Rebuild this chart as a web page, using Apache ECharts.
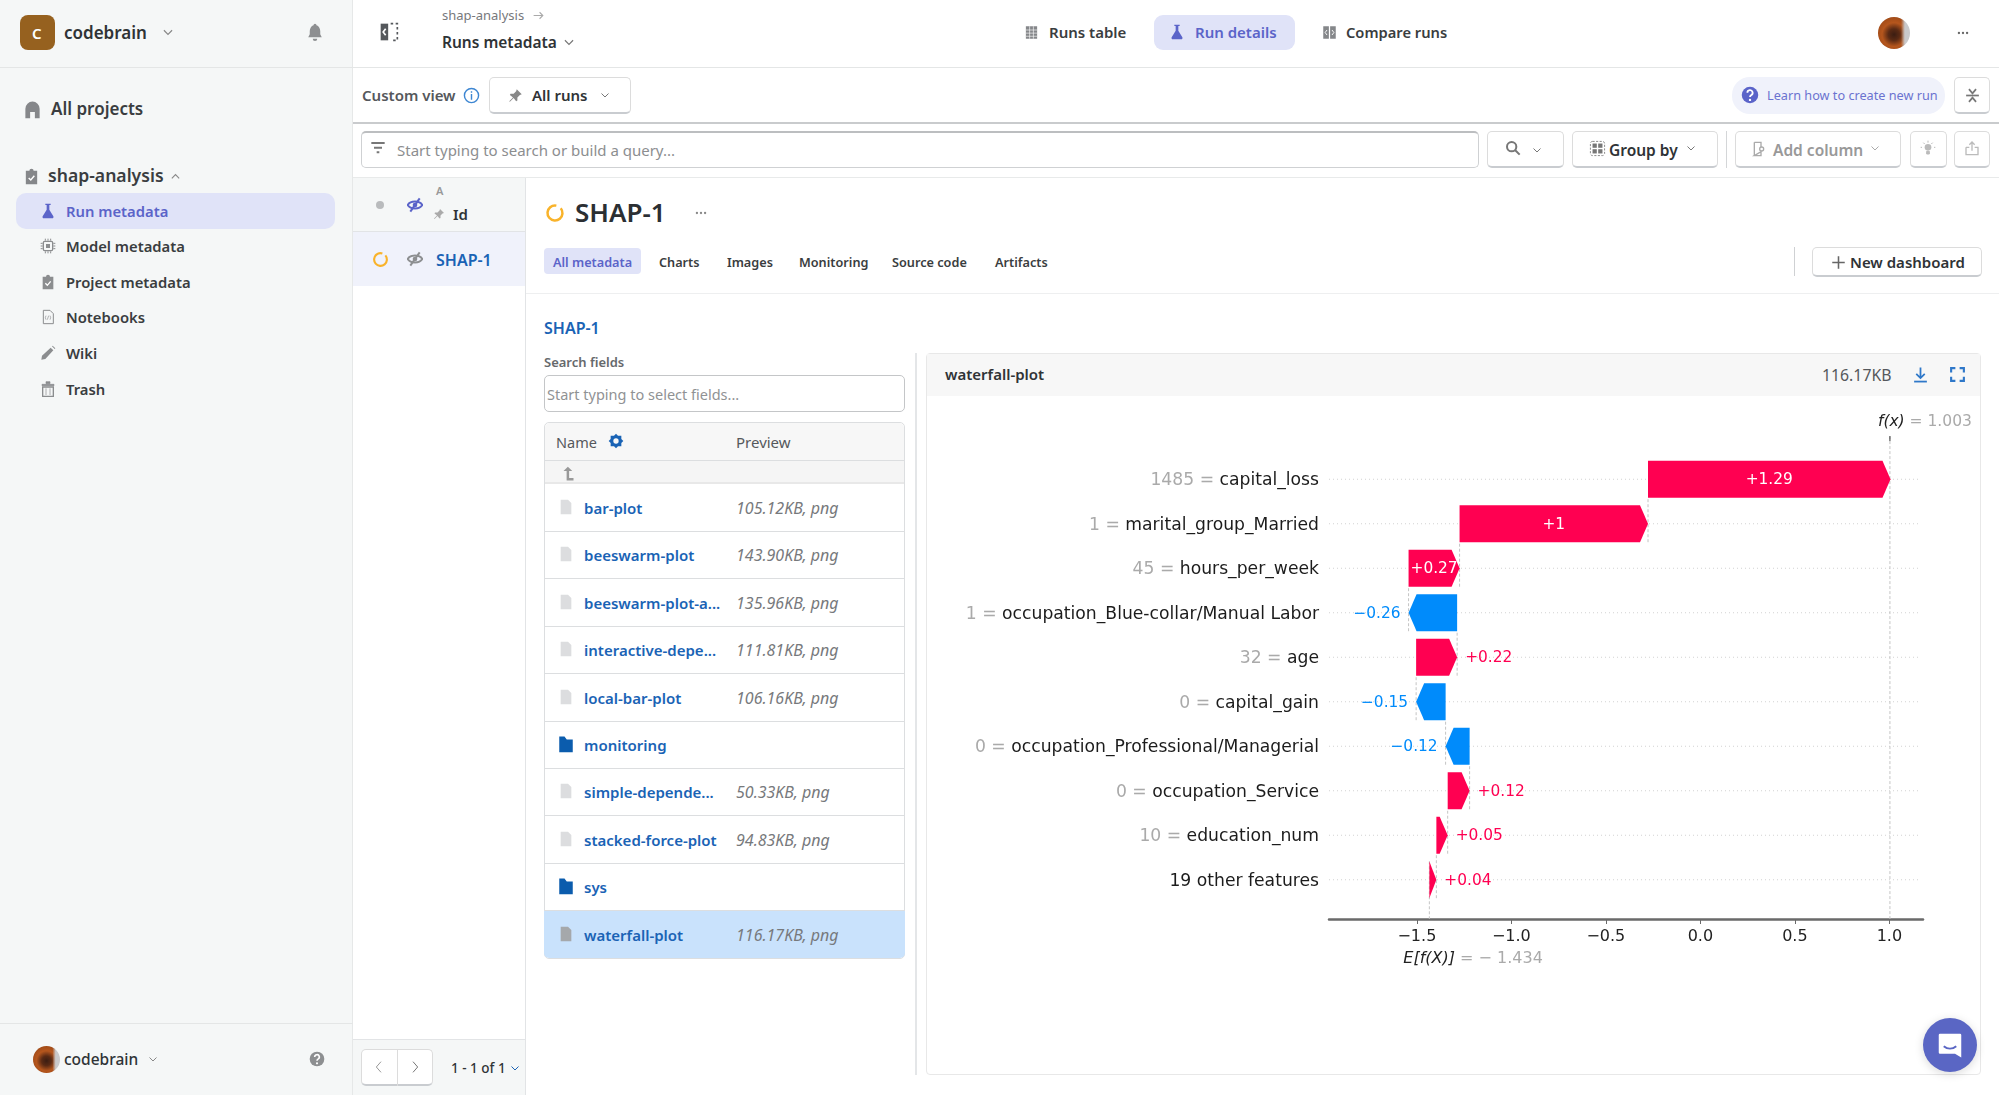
<!DOCTYPE html>
<html>
<head>
<meta charset="utf-8">
<title>waterfall-plot</title>
<script src="https://cdn.jsdelivr.net/npm/echarts@6/dist/echarts.min.js"></script>
<style>
  html, body { margin: 0; padding: 0; background: #fff; }
  #page { position: relative; width: 1999px; height: 1095px; overflow: hidden; font-family: "Noto Sans", sans-serif; color: #2b2f33; }
  #page div, #page span, #page svg { position: absolute; box-sizing: border-box; }
  #page span { white-space: nowrap; transform: translateY(-50%); }
  #chart { left: 926px; top: 396px; width: 1055px; height: 679px; }
</style>
</head>
<body>
<div id="page"><div id="chart"></div></div>
<script>
// waterfall values, top row first
var featureNames = ['capital_loss', 'marital_group_Married', 'hours_per_week', 'occupation_Blue-collar/Manual Labor', 'age', 'capital_gain', 'occupation_Professional/Managerial', 'occupation_Service', 'education_num', '19 other features'];
var featureValues = ['1485', '1', '45', '1', '32', '0', '0', '0', '10', ''];
var shapValues = [1.283, 0.997, 0.27, -0.257, 0.217, -0.156, -0.127, 0.116, 0.06, 0.037];
var shapLabels = ['+1.29', '+1', '+0.27', '\u22120.26', '+0.22', '\u22120.15', '\u22120.12', '+0.12', '+0.05', '+0.04'];
var baseValue = -1.434;
var outputValue = 1.003;
var tickValues = [-1.5, -1.0, -0.5, 0.0, 0.5, 1.0];

// file table on the left of the panel
var fileNames = ['bar-plot', 'beeswarm-plot', 'beeswarm-plot-a...', 'interactive-depe...', 'local-bar-plot', 'monitoring', 'simple-depende...', 'stacked-force-plot', 'sys', 'waterfall-plot'];
var filePreviews = ['105.12KB, png', '143.90KB, png', '135.96KB, png', '111.81KB, png', '106.16KB, png', '', '50.33KB, png', '94.83KB, png', '', '116.17KB, png'];

var navNames = ['Run metadata', 'Model metadata', 'Project metadata', 'Notebooks', 'Wiki', 'Trash'];
var detailTabs = ['All metadata', 'Charts', 'Images', 'Monitoring', 'Source code', 'Artifacts'];

var page = document.getElementById('page');

function box(x, y, w, h, css) {
    var d = document.createElement('div');
    d.style.cssText = 'left:' + x + 'px;top:' + y + 'px;width:' + w + 'px;height:' + h + 'px;' + (css || '');
    page.appendChild(d);
    return d;
}
function txt(x, y, s, css) {
    var d = document.createElement('span');
    d.style.cssText = 'left:' + x + 'px;top:' + y + 'px;' + (css || '');
    d.textContent = s;
    page.appendChild(d);
    return d;
}
function ico(cx, cy, size, inner, color) {
    var wrap = document.createElement('div');
    wrap.style.cssText = 'left:' + (cx - size / 2) + 'px;top:' + (cy - size / 2) + 'px;width:' + size + 'px;height:' + size + 'px;color:' + (color || '#888');
    wrap.innerHTML = '<svg viewBox="0 0 24 24" width="' + size + '" height="' + size + '" fill="currentColor">' + inner + '</svg>';
    page.appendChild(wrap);
}
function button(x, y, w, h) {
    return box(x, y, w, h, 'background:#fff;border:1px solid #dcdcdc;border-bottom:2px solid #c9ccd0;border-radius:5px;');
}

var chev = '<path d="M5 9l7 7 7-7" fill="none" stroke="currentColor" stroke-width="2"/>';
var bell = '<path d="M12 1a2 2 0 0 1 2 2c3 1 5 4 5 8v4l2 4H3l2-4v-4c0-4 2-7 5-8a2 2 0 0 1 2-2z"/><path d="M9 21h6a3 3 0 0 1-6 0z"/>';
var home = '<path d="M3 23V11a9 9 0 0 1 18 0v12h-6v-8H9v8z"/>';
var clip = '<path d="M4 4h5a3 3 0 0 1 6 0h5v19H4z"/><path d="M8 14l3 3 5-6" fill="none" stroke="#fff" stroke-width="2"/>';
var flask = '<path d="M8 1h8v2h-2v7l6 10a2 2 0 0 1-2 3H6a2 2 0 0 1-2-3l6-10V3H8z"/>';
var chip = '<rect x="5" y="5" width="14" height="14" rx="2" fill="none" stroke="currentColor" stroke-width="2"/><rect x="9" y="9" width="6" height="6"/><path d="M8 1v3M12 1v3M16 1v3M8 20v3M12 20v3M16 20v3M1 8h3M1 12h3M1 16h3M20 8h3M20 12h3M20 16h3" stroke="currentColor" stroke-width="1.5"/>';
var nbook = '<path d="M5 2h10l5 5v15H5z" fill="none" stroke="currentColor" stroke-width="1.5"/><path d="M9 16l-1-3 1-3M15 16l1-3-1-3M11 16l2-6" fill="none" stroke="currentColor" stroke-width="1"/>';
var pencil = '<path d="M2 22l1-6L16 4l4 4L8 21zM18 2l1-1 4 4-1 1z"/>';
var trash = '<path d="M4 9h16v14H4z" fill="none" stroke="currentColor" stroke-width="2"/><path d="M3 5h18v2H3zM9 1h6v3H9zM9 11v10M15 11v10" stroke="currentColor" stroke-width="1"/>';
var eyeoff = '<path d="M1 12c4-7 18-7 22 0-4 7-18 7-22 0z" fill="none" stroke="currentColor" stroke-width="3"/><circle cx="12" cy="12" r="3.5"/><path d="M5 22L19 2" stroke="currentColor" stroke-width="3"/>';
var pin = '<path d="M14 2l8 8-3 1-4 4 0 5-2 1-4-5-6 6-1-1 6-6-5-4 1-2 5 0 4-4z"/>';
var info = '<circle cx="12" cy="12" r="10" fill="none" stroke="currentColor" stroke-width="2"/><path d="M11 10h2v8h-2zM11 6h2v2h-2z"/>';
var ring = '<circle cx="12" cy="12" r="9" fill="none" stroke="#f9b32a" stroke-width="3" stroke-dasharray="50 7" transform="rotate(-40 12 12)"/>';
var filter = '<path d="M2 3h20v3H2zM6 10h12v3H6zM10 17h4v3h-4z"/>';
var search = '<circle cx="10" cy="10" r="7" fill="none" stroke="currentColor" stroke-width="3"/><path d="M15 15l7 7" stroke="currentColor" stroke-width="3"/>';
var group = '<rect x="2" y="2" width="20" height="20" rx="3" fill="none" stroke="currentColor" stroke-width="1.2" stroke-dasharray="3 2"/><rect x="5" y="5" width="6" height="6"/><rect x="13" y="5" width="6" height="6"/><rect x="5" y="13" width="6" height="6"/><rect x="13" y="13" width="6" height="6"/>';
var column = '<path d="M5 2h10v7M15 16v6H5z" fill="none" stroke="currentColor" stroke-width="2"/><path d="M5 2v20" stroke="currentColor" stroke-width="2"/><circle cx="16" cy="12" r="3" fill="none" stroke="currentColor" stroke-width="2"/>';
var bulb = '<circle cx="12" cy="11" r="5"/><path d="M10 17h4v4h-4zM12 1v3M3 11H1M23 11h-2M5 4l2 2M19 4l-2 2" stroke="currentColor" stroke-width="1.5"/>';
var upload = '<path d="M3 11h5M16 11h5v11H3V11" fill="none" stroke="currentColor" stroke-width="2"/><path d="M12 16V3M8 7l4-4 4 4" fill="none" stroke="currentColor" stroke-width="2"/>';
var collapse = '<path d="M3 12h18" stroke="currentColor" stroke-width="2.4"/><path d="M7 3l5 6 5-6M7 21l5-6 5 6" fill="none" stroke="currentColor" stroke-width="2.4"/>';
var fileIcon = '<path d="M4 1h11l5 5v17H4z"/>';
var folder = '<path d="M3 2h7l3 4h8v17H3z"/>';
var gear = '<path d="M12 1l3 3h5v5l3 3-3 3v5h-5l-3 3-3-3H4v-5l-3-3 3-3V4h5z"/><circle cx="12" cy="12" r="4" fill="#f7f7f7"/>';
var dots = '<circle cx="5" cy="12" r="2"/><circle cx="12" cy="12" r="2"/><circle cx="19" cy="12" r="2"/>';
var grid3 = '<rect x="3" y="2" width="18" height="20"/><path d="M3 8h18M3 13h18M3 18h18M9 2v20M15 2v20" stroke="#fff" stroke-width="1"/>';
var compare = '<rect x="2" y="2" width="9" height="20"/><rect x="13" y="2" width="9" height="20"/><path d="M8 8l-3 4 3 4M16 8l3 4-3 4" fill="none" stroke="#fff" stroke-width="1.5"/>';
var panelToggle = '<rect x="2" y="2" width="9" height="20"/><path d="M14 2h8v20h-8" fill="none" stroke="currentColor" stroke-width="2" stroke-dasharray="3 3"/><path d="M8 8l-3 4 3 4" fill="none" stroke="#fff" stroke-width="2"/>';
var arrow = '<path d="M3 12h17M14 6l6 6-6 6" fill="none" stroke="currentColor" stroke-width="2"/>';
var download = '<path d="M12 2v14M6 11l6 6 6-6" fill="none" stroke="currentColor" stroke-width="2.5"/><path d="M3 22h18" stroke="currentColor" stroke-width="2.5"/>';
var fullscreen = '<path d="M3 9V3h6M15 3h6v6M21 15v6h-6M9 21H3v-6" fill="none" stroke="currentColor" stroke-width="3"/>';
var upDir = '<path d="M9 23V8H4l7-7 7 7h-5v11h7v4z"/>';
var helpMark = '<circle cx="12" cy="12" r="11"/><path d="M8.5 9a3.5 3.5 0 1 1 5 3.2c-1 .6-1.5 1-1.5 2.3" fill="none" stroke="#fff" stroke-width="2.4"/><circle cx="12" cy="18.5" r="1.6" fill="#fff"/>';

function avatar(cx, cy, r) {
    box(cx - r, cy - r, 2 * r, 2 * r, 'border-radius:50%;background:linear-gradient(90deg,rgba(0,0,0,0) 72%,#c9c9cb 84%),radial-gradient(circle at 50% 55%,#3b1d12 0,#5a2a14 24%,#b5561d 50%,#a34c18 72%,#33241e 100%);');
}

// ---- sidebar ----
box(0, 0, 353, 1095, 'background:#f5f7f7;border-right:1px solid #e6e8e8;');
box(0, 67, 353, 1, 'background:#e4e6e6;');
box(19.5, 14.5, 35, 35.5, 'background:#96611f;border-radius:8px;');
txt(32, 33, 'C', 'color:#fff;font-size:15px;font-weight:600;');
txt(64, 32, 'codebrain', 'font-size:17px;font-weight:600;color:#2f3336;');
ico(168, 32, 14, chev, '#888');
ico(315, 32, 18, bell, '#8d8f91');
ico(32.5, 109, 19, home, '#85878a');
txt(51, 108, 'All projects', 'font-size:17px;font-weight:600;color:#3a3d40;');
ico(31.5, 176, 17, clip, '#85878a');
txt(48, 175, 'shap-analysis', 'font-size:17.6px;font-weight:600;color:#3a3d40;');
ico(175, 176, 11, '<path d="M4 16l8-8 8 8" fill="none" stroke="currentColor" stroke-width="2.5"/>', '#888');
box(15.5, 193, 319, 36, 'background:#e0e3f8;border-radius:10px;');
var navIcons = [flask, chip, clip, nbook, pencil, trash];
navNames.forEach(function (name, i) {
    var y = 210.5 + i * 35.6;
    ico(48, y, 16, navIcons[i], i === 0 ? '#5b64c9' : '#8b8d8f');
    txt(66, y, name, 'font-size:14.8px;font-weight:600;color:' + (i === 0 ? '#5b64c9' : '#3a3d40') + ';');
});
box(0, 1023, 353, 1, 'background:#e4e6e6;');
avatar(46, 1059, 13.5);
txt(64, 1059, 'codebrain', 'font-size:15.5px;font-weight:500;color:#2f3336;');
ico(153, 1059, 12, chev, '#888');
ico(317, 1059, 16, helpMark, '#8d8f91');

// ---- top bar ----
box(353, 67, 1646, 1, 'background:#e4e6e6;');
ico(388.5, 32, 20, panelToggle, '#55585c');
txt(442, 15, 'shap-analysis', 'font-size:13px;color:#77797c;');
ico(538, 15, 13, arrow, '#aaa');
txt(442, 42, 'Runs metadata', 'font-size:15.5px;font-weight:600;color:#2f3336;');
ico(568.5, 42, 14, chev, '#777');
ico(1031, 32, 15, grid3, '#85878a');
txt(1049, 32, 'Runs table', 'font-size:15px;font-weight:600;color:#3a3d40;');
box(1153.5, 15, 141, 35, 'background:#e0e3f8;border-radius:9px;');
ico(1177, 32, 16, flask, '#5b64c9');
txt(1195, 32, 'Run details', 'font-size:15px;font-weight:600;color:#5b64c9;');
ico(1329, 32, 15, compare, '#85878a');
txt(1346, 32, 'Compare runs', 'font-size:14.7px;font-weight:600;color:#3a3d40;');
avatar(1893.5, 33, 16);
ico(1963, 33, 14, dots, '#666');

// ---- view row ----
box(353, 122, 1646, 1.5, 'background:#c9cbcd;');
txt(362, 95, 'Custom view', 'font-size:15px;font-weight:600;color:#55585c;');
ico(471, 95, 17, info, '#3d86d2');
button(489, 77, 142, 37);
ico(515, 95, 15, pin, '#888');
txt(532, 95, 'All runs', 'font-size:15px;font-weight:600;color:#2f3336;');
ico(605, 95, 12, chev, '#777');
box(1732, 77, 213, 37, 'background:#f0f2fb;border-radius:18px;');
ico(1749.5, 95, 18, helpMark, '#5b64c9');
txt(1767, 95, 'Learn how to create new run', 'font-size:12.7px;color:#6b73d0;');
button(1954, 77, 36, 37);
ico(1972, 95, 17, collapse, '#777');

// ---- search row ----
box(353, 177, 1646, 1, 'background:#e8eaea;');
box(361, 131, 1118, 37, 'background:#fff;border:1px solid #cfd1d3;border-top:2px solid #bcbec0;border-radius:5px;');
ico(378, 148, 16, filter, '#777');
txt(397, 150, 'Start typing to search or build a query...', 'font-size:15px;color:#8c8e90;');
button(1487, 131, 77, 37);
ico(1513, 148, 16, search, '#777');
ico(1537, 150, 12, chev, '#777');
button(1572, 131, 146, 37);
ico(1597, 148, 17, group, '#777');
txt(1609, 150, 'Group by', 'font-size:15.5px;font-weight:600;color:#2f3336;');
ico(1691, 148, 12, chev, '#777');
box(1726, 131, 1, 37, 'background:#d4d6d8;');
button(1735, 131, 166, 37);
ico(1759, 149, 16, column, '#aaa');
txt(1773, 150, 'Add column', 'font-size:15.5px;font-weight:600;color:#999;');
ico(1875, 148, 12, chev, '#aaa');
button(1910, 131, 37, 37);
ico(1928, 148, 16, bulb, '#bbb');
button(1954, 131, 36, 37);
ico(1972, 148, 16, upload, '#bbb');

// ---- runs column ----
box(353, 178, 173, 917, 'background:#fff;border-right:1px solid #e2e4e6;');
box(353, 178, 172, 54, 'background:#f5f7f7;border-bottom:1px solid #e2e4e6;');
box(353, 232, 172, 54, 'background:#f0f2fb;');
box(376, 201, 8, 8, 'background:#b9bbbd;border-radius:50%;');
ico(415, 204.5, 16, eyeoff, '#5b64c9');
txt(436, 190, 'A', 'font-size:11px;font-weight:600;color:#999;');
ico(439, 214, 12, pin, '#aaa');
txt(453, 214, 'Id', 'font-size:15px;font-weight:600;color:#2f3336;');
ico(380, 259, 17, ring);
ico(415, 259, 16, eyeoff, '#8d8f91');
txt(436, 259.5, 'SHAP-1', 'font-size:16px;font-weight:600;color:#1a63b5;');
box(353, 1039, 172, 56, 'background:#f5f7f7;border-top:1px solid #e2e4e6;');
button(361, 1049, 72, 37);
box(397, 1049, 1, 37, 'background:#dcdcdc;');
ico(379, 1067, 16, '<path d="M15 4l-7 8 7 8" fill="none" stroke="currentColor" stroke-width="1.5"/>', '#999');
ico(415, 1067, 16, '<path d="M9 4l7 8-7 8" fill="none" stroke="currentColor" stroke-width="1.5"/>', '#777');
txt(451, 1068, '1 - 1 of 1', 'font-size:13.5px;font-weight:500;color:#2f3336;');
ico(515, 1068, 12, chev, '#1a63b5');

// ---- run heading and tabs ----
ico(555, 213, 20, ring);
txt(575, 212, 'SHAP-1', 'font-size:26px;font-weight:600;color:#2b2f33;');
ico(701, 213, 14, dots, '#888');
box(544, 248, 97, 26, 'background:#e0e3f8;border-radius:4px;');
var tabLefts = [553, 659, 727, 799, 892, 995];
detailTabs.forEach(function (t, i) {
    txt(tabLefts[i], 262, t, 'font-size:12.7px;font-weight:600;color:' + (i === 0 ? '#5b64c9' : '#3a3d40') + ';');
});
box(526, 293, 1473, 1, 'background:#eeeff0;');
box(1794, 247, 1, 29, 'background:#cfd1d3;');
button(1812, 247, 170, 30);
ico(1838, 262, 15, '<path d="M12 2v20M2 12h20" stroke="currentColor" stroke-width="2.5"/>', '#666');
txt(1850, 262, 'New dashboard', 'font-size:15px;font-weight:600;color:#2f3336;');

// ---- file table ----
txt(544, 328, 'SHAP-1', 'font-size:16px;font-weight:600;color:#1a63b5;');
txt(544, 362, 'Search fields', 'font-size:13px;font-weight:600;color:#66696c;');
box(544, 375, 361, 37, 'background:#fff;border:1px solid #c4c6c8;border-radius:5px;');
txt(547, 394, 'Start typing to select fields...', 'font-size:14.5px;color:#909294;');
box(544, 422, 361, 537, 'background:#fff;border:1px solid #dcdee0;border-radius:5px;');
box(545, 423, 359, 38, 'background:#f7f7f7;border-bottom:1px solid #dcdee0;border-radius:5px 5px 0 0;');
box(545, 461, 359, 23, 'background:#f5f5f5;border-bottom:2px solid #e8e8e8;');
txt(556, 442, 'Name', 'font-size:14.5px;color:#55585c;');
ico(615.5, 441, 16, gear, '#1a63b5');
txt(736, 442, 'Preview', 'font-size:15px;color:#55585c;');
ico(568, 473, 15, upDir, '#999');
fileNames.forEach(function (name, i) {
    var top = 484.5 + i * 47.4;
    var selected = i === fileNames.length - 1;
    if (selected) box(544, top, 361, 47.4, 'background:#c9e2fc;border-radius:0 0 5px 5px;');
    else box(545, top + 46.4, 359, 1, 'background:#dcdee0;');
    var y = top + 23.5;
    if (filePreviews[i]) ico(566, y - 1, 16, fileIcon, selected ? '#a5a8ab' : '#dcdddf');
    else ico(566, y - 1, 18, folder, '#0b5cad');
    txt(584, y, name, 'font-size:15px;font-weight:600;color:#1a63b5;');
    if (filePreviews[i]) txt(736, y, filePreviews[i], 'font-size:16px;font-style:italic;color:#77797c;');
});

// ---- chart panel chrome ----
box(915, 353, 1.5, 722, 'background:#e4e6e8;');
box(926, 353, 1055, 722, 'background:#fff;border:1px solid #e8e8e8;border-radius:4px;');
box(927, 354, 1053, 42, 'background:#f7f7f7;');
txt(945, 374, 'waterfall-plot', 'font-size:15px;font-weight:600;color:#2f3336;');
txt(1822, 375, '116.17KB', 'font-size:15.8px;color:#55585c;');
ico(1920, 374, 17, download, '#2f78c9');
ico(1957, 374, 17, fullscreen, '#2f78c9');
var chartDiv = document.getElementById('chart');
page.appendChild(chartDiv);

// ---- chat bubble ----
box(1923, 1018, 54, 54, 'background:#5a66c4;border-radius:50%;box-shadow:0 2px 10px rgba(0,0,0,.15);');
ico(1950, 1045, 30, '<path d="M4 3h16a1 1 0 0 1 1 1v18l-5-3H4a1 1 0 0 1-1-1V4a1 1 0 0 1 1-1z" fill="#fff"/><path d="M7 13c3 2.5 7 2.5 10 0" fill="none" stroke="#5a66c4" stroke-width="1.6"/>', '#fff');

// ---- the waterfall itself ----
var PLOT_FONT = '"DejaVu Sans", sans-serif';
var POS_COLOR = '#ff0051';
var NEG_COLOR = '#008bfb';
var LINE_COLOR = '#c4c4c4';
var AXIS_DROP = 17;

// walk up from the base value: the bottom row starts at E[f(X)]
var barEnds = [], barStarts = [];
var running = baseValue;
for (var r = shapValues.length - 1; r >= 0; r--) {
    barStarts[r] = running;
    running += shapValues[r];
    barEnds[r] = running;
}
var barData = shapValues.map(function (v, i) { return [barStarts[i], barEnds[i], i]; });
var rowData = featureNames.map(function (n, i) { return [0, i]; });

function dashed(x1, y1, x2, y2, dash, color) {
    return {
        type: 'line', silent: true,
        shape: { x1: x1, y1: y1, x2: x2, y2: y2 },
        style: { stroke: color || LINE_COLOR, lineWidth: 1, lineDash: dash }
    };
}

function renderRow(params, api) {
    var y = api.coord([0, api.value(1)])[1];
    var cs = params.coordSys;
    return dashed(cs.x, y, cs.x + cs.width - 2, y, [1, 3], '#d2d2d2');
}

function renderConnector(params, api) {
    var i = params.dataIndex;
    if (i === 0) return null;
    var p = api.coord([api.value(1), api.value(2)]);
    var band = api.size([0, 1])[1];
    return dashed(p[0], p[1] + band * 0.415, p[0], p[1] - band * 0.585, [3, 2]);
}

function renderBar(params, api) {
    var i = params.dataIndex;
    var a = api.coord([api.value(0), api.value(2)]);
    var b = api.coord([api.value(1), api.value(2)]);
    var half = api.size([0, 1])[1] * 0.415;
    var dir = b[0] > a[0] ? 1 : -1;
    var len = Math.abs(b[0] - a[0]);
    var head = Math.min(8, len);
    var color = dir > 0 ? POS_COLOR : NEG_COLOR;
    var y = a[1];
    var inside = len > 50;
    return {
        type: 'group',
        children: [{
            type: 'polygon',
            shape: { points: [[a[0], y - half], [b[0] - dir * head, y - half], [b[0], y], [b[0] - dir * head, y + half], [a[0], y + half]] },
            style: { fill: color }
        }, {
            type: 'text',
            style: {
                x: inside ? (a[0] + b[0]) / 2 : (dir > 0 ? b[0] + 8 : b[0] - 8),
                y: y + 1,
                text: shapLabels[i],
                fill: inside ? '#fff' : color,
                font: '15.4px ' + PLOT_FONT,
                align: inside ? 'center' : (dir > 0 ? 'left' : 'right'),
                verticalAlign: 'middle'
            }
        }]
    };
}

function renderGuides(params, api) {
    var top = api.coord([outputValue, 0]);
    var bottom = api.coord([baseValue, 9]);
    var band = api.size([0, 1])[1];
    var axisY = params.coordSys.y + params.coordSys.height + AXIS_DROP;
    var topY = top[1] - band * 0.97;
    return {
        type: 'group',
        children: [
            dashed(top[0], topY, top[0], axisY, [3, 2]),
            dashed(bottom[0], bottom[1] - band * 0.415, bottom[0], axisY, [3, 2]),
            { type: 'line', shape: { x1: top[0], y1: topY, x2: top[0], y2: topY + 5 }, style: { stroke: '#333', lineWidth: 1 } },
            {
                type: 'text',
                style: {
                    x: top[0] - 12, y: topY - 14,
                    text: '{a|f(x)}{b| = ' + outputValue.toFixed(3) + '}',
                    align: 'left', verticalAlign: 'middle',
                    rich: {
                        a: { font: 'italic 15.5px ' + PLOT_FONT, fill: '#222' },
                        b: { font: '15.5px ' + PLOT_FONT, fill: '#aaa' }
                    }
                }
            },
            {
                type: 'text',
                style: {
                    x: bottom[0] - 26, y: axisY + 40,
                    text: '{a|E[f(X)]}{b| = \u2212 ' + Math.abs(baseValue).toFixed(3) + '}',
                    align: 'left', verticalAlign: 'middle',
                    rich: {
                        a: { font: 'italic 16px ' + PLOT_FONT, fill: '#222' },
                        b: { font: '16px ' + PLOT_FONT, fill: '#aaa' }
                    }
                }
            }
        ]
    };
}

var chart = echarts.init(chartDiv);
chart.setOption({
    animation: false,
    backgroundColor: 'transparent',
    textStyle: { fontFamily: PLOT_FONT },
    grid: { left: 403, right: 58, top: 61, bottom: 173 },
    xAxis: {
        type: 'value',
        min: -1.965,
        max: 1.178,
        offset: AXIS_DROP,
        splitLine: { show: false },
        axisLine: { show: true, onZero: false, lineStyle: { color: '#6a6a6a', width: 2.5 } },
        axisTick: { show: true, length: 5, customValues: tickValues, lineStyle: { color: '#6a6a6a', width: 1 } },
        axisLabel: {
            customValues: tickValues,
            color: '#222',
            fontFamily: PLOT_FONT,
            fontSize: 16,
            margin: 10,
            formatter: function (v) { return v.toFixed(1).replace('-', '\u2212'); }
        }
    },
    yAxis: {
        type: 'category',
        inverse: true,
        data: featureNames,
        axisLine: { show: false },
        axisTick: { show: false },
        splitLine: { show: false },
        axisLabel: {
            margin: 10,
            formatter: function (name, i) {
                return featureValues[i] ? '{g|' + featureValues[i] + ' = }{b|' + name + '}' : '{b|' + name + '}';
            },
            rich: {
                g: { color: '#aaaaaa', fontFamily: PLOT_FONT, fontSize: 17.2, padding: [3, 0, 0, 0] },
                b: { color: '#1c1c1c', fontFamily: PLOT_FONT, fontSize: 17.2, padding: [3, 0, 0, 0] }
            }
        }
    },
    series: [
        { type: 'custom', silent: true, data: rowData, encode: { x: 0, y: 1 }, renderItem: renderRow, z: 1 },
        { type: 'custom', silent: true, data: barData, encode: { x: [0, 1], y: 2 }, renderItem: renderConnector, z: 2 },
        { type: 'custom', silent: true, data: barData, encode: { x: [0, 1], y: 2 }, renderItem: renderBar, z: 3 },
        { type: 'custom', silent: true, data: [[outputValue, 0]], encode: { x: 0, y: 1 }, renderItem: renderGuides, z: 2 }
    ]
});
</script>
</body>
</html>
